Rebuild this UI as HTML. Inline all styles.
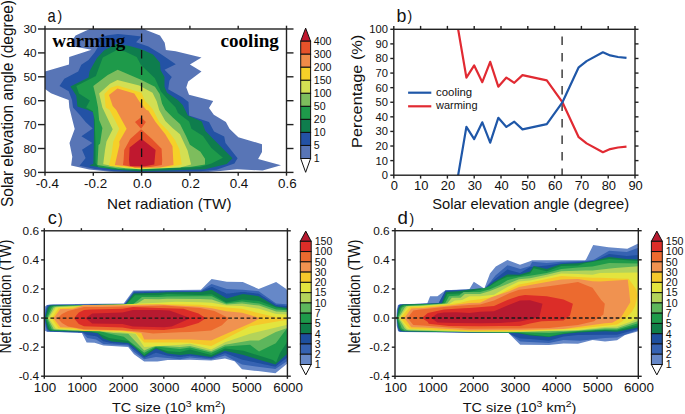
<!DOCTYPE html>
<html><head><meta charset="utf-8"><style>html,body{margin:0;padding:0;background:#fff;overflow:hidden;width:685px;height:414px;font-family:"Liberation Sans",sans-serif;}svg{display:block;}</style></head>
<body><svg width="685" height="414" viewBox="0 0 685 414">
<rect width="685" height="414" fill="#fff"/>
<clipPath id="ca"><rect x="45" y="29.0" width="241.5" height="143.4"/></clipPath>
<polygon points="90.4,28.7 144.0,28.7 146.0,30.0 160.0,35.6 164.7,42.8 165.9,49.9 175.7,51.2 201.5,57.4 189.9,64.5 201.5,71.6 188.2,81.4 186.3,87.4 189.0,94.8 213.2,100.9 209.0,108.1 213.8,114.8 225.9,122.0 229.5,128.7 238.3,137.2 262.0,144.2 262.0,151.9 258.1,158.9 281.0,165.3 262.6,170.5 237.0,169.2 220.4,171.1 205.0,172.2 140.0,172.3 110.2,171.8 89.2,169.5 71.1,165.4 72.3,156.7 69.5,143.1 74.7,129.0 72.2,119.2 69.3,107.6 68.7,100.0 60.0,96.7 51.0,93.2 45.0,89.0 45.0,71.5 69.0,64.5 69.2,57.0 91.5,49.8 74.0,46.5 72.0,41.0 75.5,35.6" fill="#5875b6" clip-path="url(#ca)"/>
<polygon points="97.0,38.2 107.5,35.3 118.0,34.1 130.9,35.3 141.4,36.4 136.1,42.3 148.4,46.4 160.0,53.4 175.8,64.3 164.5,69.8 171.8,77.1 169.4,80.7 168.2,89.2 182.7,97.6 188.5,102.1 189.1,115.4 209.0,122.0 214.0,131.4 224.2,136.5 225.5,142.9 237.6,158.3 234.4,163.4 216.5,169.8 200.0,171.3 140.0,172.0 113.7,171.3 95.0,169.0 79.5,165.7 85.6,158.0 82.0,149.8 92.4,143.0 81.4,136.3 92.7,128.5 85.6,121.9 80.1,115.2 73.0,107.6 72.0,100.0 68.7,91.3 59.5,86.0 64.3,78.7 78.2,71.5 81.3,64.8 88.5,60.0 94.8,52.3 100.0,43.5" fill="#2352a5" clip-path="url(#ca)"/>
<polygon points="104.0,50.4 115.7,44.0 128.5,45.8 141.4,49.3 153.0,54.5 160.0,62.7 160.5,70.0 164.5,77.1 164.5,86.8 167.0,92.8 177.8,100.0 182.7,104.9 187.9,115.4 201.8,121.4 205.4,131.1 213.3,139.1 232.5,158.3 226.8,164.1 205.0,169.2 140.0,171.3 112.6,169.5 89.2,165.4 93.3,163.7 93.8,145.0 94.0,128.0 93.7,112.5 87.2,109.8 77.4,106.5 76.3,95.7 70.4,86.4 88.5,77.5 89.7,70.9 93.0,65.0 97.0,58.0" fill="#0e7d4d" clip-path="url(#ca)"/>
<polygon points="102.8,57.4 116.9,49.9 125.0,51.6 136.7,56.9 141.0,65.0 154.9,78.3 160.9,91.6 168.2,100.0 175.4,107.3 178.0,113.0 189.1,121.4 191.5,128.7 203.0,135.9 211.4,148.0 222.9,157.7 211.4,163.4 200.0,167.0 130.0,170.1 98.5,167.2 95.5,163.0 95.5,145.0 95.0,130.0 94.8,120.0 92.6,110.9 86.1,107.6 89.9,100.5 79.0,93.5 76.3,85.9 95.9,76.0 98.2,69.7" fill="#1e9a4a" clip-path="url(#ca)"/>
<polygon points="117.7,69.8 140.4,79.5 154.9,86.8 159.7,94.0 162.1,103.7 165.3,110.0 172.5,117.3 180.0,124.0 186.0,135.9 189.9,144.7 200.4,151.7 205.0,158.7 205.0,164.5 190.0,167.0 118.4,168.4 97.4,164.9 98.5,145.0 100.0,143.8 102.4,128.1 100.0,122.1 99.1,120.0 98.0,107.6 95.9,96.7 93.3,86.0 107.8,75.0" fill="#7dbd5d" clip-path="url(#ca)"/>
<polygon points="117.4,80.1 139.2,85.5 152.5,92.8 156.7,101.3 159.2,110.0 165.3,120.9 172.5,128.1 180.0,134.2 187.6,150.5 191.1,164.5 180.0,167.5 140.0,169.3 125.4,168.2 103.2,164.3 105.0,150.0 106.5,141.4 112.7,129.3 103.6,110.0 102.4,107.6 99.1,93.5 110.0,83.7" fill="#d3df53" clip-path="url(#ca)"/>
<polygon points="117.4,85.5 141.6,92.8 145.2,101.3 150.0,106.0 153.2,110.0 159.2,122.1 167.7,130.5 175.0,140.0 179.4,149.3 181.7,164.5 170.0,167.0 140.0,168.8 110.0,166.0 109.0,164.9 111.5,155.0 113.3,141.4 119.3,128.7 109.7,110.0 105.7,107.6 104.4,94.0 110.0,88.0" fill="#f5d128" clip-path="url(#ca)"/>
<polygon points="117.4,88.6 134.3,93.4 139.2,101.3 146.4,110.0 148.3,110.5 155.6,122.1 165.3,134.2 172.5,146.3 173.5,165.1 160.0,167.5 140.0,167.8 114.9,165.0 116.0,160.0 119.5,145.0 119.3,141.4 126.6,128.7 116.3,110.0 112.7,106.0 109.0,95.0" fill="#ef8b48" clip-path="url(#ca)"/>
<polygon points="141.1,117.3 145.9,122.1 141.1,128.7 135.0,122.1" fill="#e6522a" clip-path="url(#ca)"/>
<polygon points="141.1,129.3 152.0,139.0 161.6,148.7 162.2,160.0 161.9,165.1 150.0,167.0 135.0,167.5 123.0,165.0 123.6,160.0 124.2,149.9 130.2,139.0" fill="#e6522a" clip-path="url(#ca)"/>
<polygon points="141.1,138.4 155.6,149.9 155.4,152.0 154.3,164.5 145.0,166.3 130.0,166.0 129.5,164.9 129.0,160.0 129.6,147.5" fill="#c0182f" clip-path="url(#ca)"/>
<line x1="141.60" y1="29.00" x2="141.60" y2="172.40" stroke="#111" stroke-width="1.3" stroke-dasharray="8.5 7.9" stroke-dashoffset="11.8"/>
<text x="52.20" y="46.80" font-family="&quot;Liberation Serif&quot;, serif" font-size="19" font-weight="bold" text-anchor="start" fill="#000" textLength="73.2" lengthAdjust="spacingAndGlyphs">warming</text>
<text x="220.50" y="46.80" font-family="&quot;Liberation Serif&quot;, serif" font-size="19" font-weight="bold" text-anchor="start" fill="#000" textLength="58.4" lengthAdjust="spacingAndGlyphs">cooling</text>
<rect x="45" y="29.0" width="241.5" height="143.4" fill="none" stroke="#222222" stroke-width="1.4"/>
<line x1="45.00" y1="172.40" x2="45.00" y2="175.70" stroke="#222222" stroke-width="1.4"/>
<line x1="45.00" y1="29.00" x2="45.00" y2="25.70" stroke="#222222" stroke-width="1.4"/>
<text x="47.30" y="187.60" font-family="&quot;Liberation Sans&quot;, sans-serif" font-size="13.4" font-weight="normal" text-anchor="middle" fill="#111">-0.4</text>
<line x1="93.30" y1="172.40" x2="93.30" y2="175.70" stroke="#222222" stroke-width="1.4"/>
<line x1="93.30" y1="29.00" x2="93.30" y2="25.70" stroke="#222222" stroke-width="1.4"/>
<text x="95.60" y="187.60" font-family="&quot;Liberation Sans&quot;, sans-serif" font-size="13.4" font-weight="normal" text-anchor="middle" fill="#111">-0.2</text>
<line x1="141.60" y1="172.40" x2="141.60" y2="175.70" stroke="#222222" stroke-width="1.4"/>
<line x1="141.60" y1="29.00" x2="141.60" y2="25.70" stroke="#222222" stroke-width="1.4"/>
<text x="142.40" y="187.60" font-family="&quot;Liberation Sans&quot;, sans-serif" font-size="13.4" font-weight="normal" text-anchor="middle" fill="#111">0.0</text>
<line x1="189.90" y1="172.40" x2="189.90" y2="175.70" stroke="#222222" stroke-width="1.4"/>
<line x1="189.90" y1="29.00" x2="189.90" y2="25.70" stroke="#222222" stroke-width="1.4"/>
<text x="190.70" y="187.60" font-family="&quot;Liberation Sans&quot;, sans-serif" font-size="13.4" font-weight="normal" text-anchor="middle" fill="#111">0.2</text>
<line x1="238.20" y1="172.40" x2="238.20" y2="175.70" stroke="#222222" stroke-width="1.4"/>
<line x1="238.20" y1="29.00" x2="238.20" y2="25.70" stroke="#222222" stroke-width="1.4"/>
<text x="239.00" y="187.60" font-family="&quot;Liberation Sans&quot;, sans-serif" font-size="13.4" font-weight="normal" text-anchor="middle" fill="#111">0.4</text>
<line x1="286.50" y1="172.40" x2="286.50" y2="175.70" stroke="#222222" stroke-width="1.4"/>
<line x1="286.50" y1="29.00" x2="286.50" y2="25.70" stroke="#222222" stroke-width="1.4"/>
<text x="287.30" y="187.60" font-family="&quot;Liberation Sans&quot;, sans-serif" font-size="13.4" font-weight="normal" text-anchor="middle" fill="#111">0.6</text>
<line x1="45.00" y1="29.00" x2="38.00" y2="29.00" stroke="#222222" stroke-width="1.4"/>
<line x1="286.50" y1="29.00" x2="293.50" y2="29.00" stroke="#222222" stroke-width="1.4"/>
<text x="36.50" y="33.10" font-family="&quot;Liberation Sans&quot;, sans-serif" font-size="11.8" font-weight="normal" text-anchor="end" fill="#111">30</text>
<line x1="45.00" y1="52.90" x2="38.00" y2="52.90" stroke="#222222" stroke-width="1.4"/>
<line x1="286.50" y1="52.90" x2="293.50" y2="52.90" stroke="#222222" stroke-width="1.4"/>
<text x="36.50" y="57.00" font-family="&quot;Liberation Sans&quot;, sans-serif" font-size="11.8" font-weight="normal" text-anchor="end" fill="#111">40</text>
<line x1="45.00" y1="76.80" x2="38.00" y2="76.80" stroke="#222222" stroke-width="1.4"/>
<line x1="286.50" y1="76.80" x2="293.50" y2="76.80" stroke="#222222" stroke-width="1.4"/>
<text x="36.50" y="80.90" font-family="&quot;Liberation Sans&quot;, sans-serif" font-size="11.8" font-weight="normal" text-anchor="end" fill="#111">50</text>
<line x1="45.00" y1="100.70" x2="38.00" y2="100.70" stroke="#222222" stroke-width="1.4"/>
<line x1="286.50" y1="100.70" x2="293.50" y2="100.70" stroke="#222222" stroke-width="1.4"/>
<text x="36.50" y="104.80" font-family="&quot;Liberation Sans&quot;, sans-serif" font-size="11.8" font-weight="normal" text-anchor="end" fill="#111">60</text>
<line x1="45.00" y1="124.60" x2="38.00" y2="124.60" stroke="#222222" stroke-width="1.4"/>
<line x1="286.50" y1="124.60" x2="293.50" y2="124.60" stroke="#222222" stroke-width="1.4"/>
<text x="36.50" y="128.70" font-family="&quot;Liberation Sans&quot;, sans-serif" font-size="11.8" font-weight="normal" text-anchor="end" fill="#111">70</text>
<line x1="45.00" y1="148.50" x2="38.00" y2="148.50" stroke="#222222" stroke-width="1.4"/>
<line x1="286.50" y1="148.50" x2="293.50" y2="148.50" stroke="#222222" stroke-width="1.4"/>
<text x="36.50" y="152.60" font-family="&quot;Liberation Sans&quot;, sans-serif" font-size="11.8" font-weight="normal" text-anchor="end" fill="#111">80</text>
<line x1="45.00" y1="172.40" x2="38.00" y2="172.40" stroke="#222222" stroke-width="1.4"/>
<line x1="286.50" y1="172.40" x2="293.50" y2="172.40" stroke="#222222" stroke-width="1.4"/>
<text x="36.50" y="176.50" font-family="&quot;Liberation Sans&quot;, sans-serif" font-size="11.8" font-weight="normal" text-anchor="end" fill="#111">90</text>
<text x="13.00" y="207.00" font-family="&quot;Liberation Sans&quot;, sans-serif" font-size="16" font-weight="normal" text-anchor="start" fill="#111" textLength="207" lengthAdjust="spacingAndGlyphs" transform="rotate(-90 13.00 207.00)">Solar elevation angle (degree)</text>
<text x="169.30" y="209.40" font-family="&quot;Liberation Sans&quot;, sans-serif" font-size="15" font-weight="normal" text-anchor="middle" fill="#111" textLength="124.5" lengthAdjust="spacingAndGlyphs">Net radiation (TW)</text>
<text x="47.50" y="21.50" font-family="&quot;Liberation Sans&quot;, sans-serif" font-size="19" font-weight="normal" text-anchor="start" fill="#111" textLength="8.2" lengthAdjust="spacingAndGlyphs">a</text>
<text x="57.60" y="20.80" font-family="&quot;Liberation Sans&quot;, sans-serif" font-size="14" font-weight="normal" text-anchor="start" fill="#111">)</text>
<polygon points="300.7,41.2 305.65,28.1 310.6,41.2" fill="#c0182f" stroke="#111" stroke-width="1" stroke-linejoin="miter"/>
<polygon points="300.7,158.5 305.65,172.3 310.6,158.5" fill="#ffffff" stroke="#111" stroke-width="1"/>
<rect x="300.7" y="41.20" width="9.900000000000034" height="13.03" fill="#e6522a" stroke="#111" stroke-width="1"/>
<rect x="300.7" y="54.23" width="9.900000000000034" height="13.03" fill="#ef8b48" stroke="#111" stroke-width="1"/>
<rect x="300.7" y="67.27" width="9.900000000000034" height="13.03" fill="#f5d128" stroke="#111" stroke-width="1"/>
<rect x="300.7" y="80.30" width="9.900000000000034" height="13.03" fill="#d3df53" stroke="#111" stroke-width="1"/>
<rect x="300.7" y="93.33" width="9.900000000000034" height="13.03" fill="#7dbd5d" stroke="#111" stroke-width="1"/>
<rect x="300.7" y="106.37" width="9.900000000000034" height="13.03" fill="#1e9a4a" stroke="#111" stroke-width="1"/>
<rect x="300.7" y="119.40" width="9.900000000000034" height="13.03" fill="#0e7d4d" stroke="#111" stroke-width="1"/>
<rect x="300.7" y="132.43" width="9.900000000000034" height="13.03" fill="#2352a5" stroke="#111" stroke-width="1"/>
<rect x="300.7" y="145.47" width="9.900000000000034" height="13.03" fill="#5875b6" stroke="#111" stroke-width="1"/>
<text x="313.80" y="45.02" font-family="&quot;Liberation Sans&quot;, sans-serif" font-size="10.6" font-weight="normal" text-anchor="start" fill="#111">400</text>
<text x="313.80" y="58.05" font-family="&quot;Liberation Sans&quot;, sans-serif" font-size="10.6" font-weight="normal" text-anchor="start" fill="#111">300</text>
<text x="313.80" y="71.08" font-family="&quot;Liberation Sans&quot;, sans-serif" font-size="10.6" font-weight="normal" text-anchor="start" fill="#111">200</text>
<text x="313.80" y="84.12" font-family="&quot;Liberation Sans&quot;, sans-serif" font-size="10.6" font-weight="normal" text-anchor="start" fill="#111">150</text>
<text x="313.80" y="97.15" font-family="&quot;Liberation Sans&quot;, sans-serif" font-size="10.6" font-weight="normal" text-anchor="start" fill="#111">100</text>
<text x="313.80" y="110.18" font-family="&quot;Liberation Sans&quot;, sans-serif" font-size="10.6" font-weight="normal" text-anchor="start" fill="#111">50</text>
<text x="313.80" y="123.22" font-family="&quot;Liberation Sans&quot;, sans-serif" font-size="10.6" font-weight="normal" text-anchor="start" fill="#111">20</text>
<text x="313.80" y="136.25" font-family="&quot;Liberation Sans&quot;, sans-serif" font-size="10.6" font-weight="normal" text-anchor="start" fill="#111">10</text>
<text x="313.80" y="149.28" font-family="&quot;Liberation Sans&quot;, sans-serif" font-size="10.6" font-weight="normal" text-anchor="start" fill="#111">5</text>
<text x="313.80" y="162.32" font-family="&quot;Liberation Sans&quot;, sans-serif" font-size="10.6" font-weight="normal" text-anchor="start" fill="#111">1</text>
<clipPath id="cb"><rect x="393.8" y="29.3" width="241.2" height="145.89999999999998"/></clipPath>
<line x1="562.10" y1="29.30" x2="562.10" y2="175.20" stroke="#222" stroke-width="1.3" stroke-dasharray="8.4 8.1" stroke-dashoffset="9.2"/>
<polyline points="458.1,29.0 466.4,77.6 474.2,65.4 482.3,82.2 490.2,61.9 498.3,86.7 506.4,77.6 514.3,82.8 522.5,75.1 546.8,80.3 562.2,101.8 578.7,137.2 586.6,143.4 602.9,152.2 610.2,149.1 618.0,147.5 626.5,146.6" fill="none" stroke="#e12a32" stroke-width="2.2" stroke-linejoin="round" clip-path="url(#cb)"/>
<polyline points="458.1,175.5 466.4,126.9 474.2,139.1 482.3,122.3 490.2,142.6 498.3,117.8 506.4,126.9 514.3,121.7 522.5,129.4 546.8,124.2 562.2,102.7 578.7,67.3 586.6,61.1 602.9,52.3 610.2,55.4 618.0,57.0 626.5,57.9" fill="none" stroke="#1f57a8" stroke-width="2.2" stroke-linejoin="round" clip-path="url(#cb)"/>
<rect x="393.8" y="29.3" width="241.2" height="145.89999999999998" fill="none" stroke="#222222" stroke-width="1.4"/>
<line x1="393.80" y1="175.20" x2="393.80" y2="178.60" stroke="#222222" stroke-width="1.4"/>
<line x1="393.80" y1="29.30" x2="393.80" y2="25.90" stroke="#222222" stroke-width="1.4"/>
<text x="394.40" y="189.80" font-family="&quot;Liberation Sans&quot;, sans-serif" font-size="12.9" font-weight="normal" text-anchor="middle" fill="#111">0</text>
<line x1="420.60" y1="175.20" x2="420.60" y2="178.60" stroke="#222222" stroke-width="1.4"/>
<line x1="420.60" y1="29.30" x2="420.60" y2="25.90" stroke="#222222" stroke-width="1.4"/>
<text x="421.20" y="189.80" font-family="&quot;Liberation Sans&quot;, sans-serif" font-size="12.9" font-weight="normal" text-anchor="middle" fill="#111">10</text>
<line x1="447.40" y1="175.20" x2="447.40" y2="178.60" stroke="#222222" stroke-width="1.4"/>
<line x1="447.40" y1="29.30" x2="447.40" y2="25.90" stroke="#222222" stroke-width="1.4"/>
<text x="448.00" y="189.80" font-family="&quot;Liberation Sans&quot;, sans-serif" font-size="12.9" font-weight="normal" text-anchor="middle" fill="#111">20</text>
<line x1="474.20" y1="175.20" x2="474.20" y2="178.60" stroke="#222222" stroke-width="1.4"/>
<line x1="474.20" y1="29.30" x2="474.20" y2="25.90" stroke="#222222" stroke-width="1.4"/>
<text x="474.80" y="189.80" font-family="&quot;Liberation Sans&quot;, sans-serif" font-size="12.9" font-weight="normal" text-anchor="middle" fill="#111">30</text>
<line x1="501.00" y1="175.20" x2="501.00" y2="178.60" stroke="#222222" stroke-width="1.4"/>
<line x1="501.00" y1="29.30" x2="501.00" y2="25.90" stroke="#222222" stroke-width="1.4"/>
<text x="501.60" y="189.80" font-family="&quot;Liberation Sans&quot;, sans-serif" font-size="12.9" font-weight="normal" text-anchor="middle" fill="#111">40</text>
<line x1="527.80" y1="175.20" x2="527.80" y2="178.60" stroke="#222222" stroke-width="1.4"/>
<line x1="527.80" y1="29.30" x2="527.80" y2="25.90" stroke="#222222" stroke-width="1.4"/>
<text x="528.40" y="189.80" font-family="&quot;Liberation Sans&quot;, sans-serif" font-size="12.9" font-weight="normal" text-anchor="middle" fill="#111">50</text>
<line x1="554.60" y1="175.20" x2="554.60" y2="178.60" stroke="#222222" stroke-width="1.4"/>
<line x1="554.60" y1="29.30" x2="554.60" y2="25.90" stroke="#222222" stroke-width="1.4"/>
<text x="555.20" y="189.80" font-family="&quot;Liberation Sans&quot;, sans-serif" font-size="12.9" font-weight="normal" text-anchor="middle" fill="#111">60</text>
<line x1="581.40" y1="175.20" x2="581.40" y2="178.60" stroke="#222222" stroke-width="1.4"/>
<line x1="581.40" y1="29.30" x2="581.40" y2="25.90" stroke="#222222" stroke-width="1.4"/>
<text x="582.00" y="189.80" font-family="&quot;Liberation Sans&quot;, sans-serif" font-size="12.9" font-weight="normal" text-anchor="middle" fill="#111">70</text>
<line x1="608.20" y1="175.20" x2="608.20" y2="178.60" stroke="#222222" stroke-width="1.4"/>
<line x1="608.20" y1="29.30" x2="608.20" y2="25.90" stroke="#222222" stroke-width="1.4"/>
<text x="608.80" y="189.80" font-family="&quot;Liberation Sans&quot;, sans-serif" font-size="12.9" font-weight="normal" text-anchor="middle" fill="#111">80</text>
<line x1="635.00" y1="175.20" x2="635.00" y2="178.60" stroke="#222222" stroke-width="1.4"/>
<line x1="635.00" y1="29.30" x2="635.00" y2="25.90" stroke="#222222" stroke-width="1.4"/>
<text x="635.60" y="189.80" font-family="&quot;Liberation Sans&quot;, sans-serif" font-size="12.9" font-weight="normal" text-anchor="middle" fill="#111">90</text>
<line x1="393.80" y1="175.20" x2="390.30" y2="175.20" stroke="#222222" stroke-width="1.4"/>
<line x1="635.00" y1="175.20" x2="638.50" y2="175.20" stroke="#222222" stroke-width="1.4"/>
<text x="388.00" y="179.10" font-family="&quot;Liberation Sans&quot;, sans-serif" font-size="11.2" font-weight="normal" text-anchor="end" fill="#111">0</text>
<line x1="393.80" y1="160.61" x2="390.30" y2="160.61" stroke="#222222" stroke-width="1.4"/>
<line x1="635.00" y1="160.61" x2="638.50" y2="160.61" stroke="#222222" stroke-width="1.4"/>
<text x="388.00" y="164.51" font-family="&quot;Liberation Sans&quot;, sans-serif" font-size="11.2" font-weight="normal" text-anchor="end" fill="#111">10</text>
<line x1="393.80" y1="146.02" x2="390.30" y2="146.02" stroke="#222222" stroke-width="1.4"/>
<line x1="635.00" y1="146.02" x2="638.50" y2="146.02" stroke="#222222" stroke-width="1.4"/>
<text x="388.00" y="149.92" font-family="&quot;Liberation Sans&quot;, sans-serif" font-size="11.2" font-weight="normal" text-anchor="end" fill="#111">20</text>
<line x1="393.80" y1="131.43" x2="390.30" y2="131.43" stroke="#222222" stroke-width="1.4"/>
<line x1="635.00" y1="131.43" x2="638.50" y2="131.43" stroke="#222222" stroke-width="1.4"/>
<text x="388.00" y="135.33" font-family="&quot;Liberation Sans&quot;, sans-serif" font-size="11.2" font-weight="normal" text-anchor="end" fill="#111">30</text>
<line x1="393.80" y1="116.84" x2="390.30" y2="116.84" stroke="#222222" stroke-width="1.4"/>
<line x1="635.00" y1="116.84" x2="638.50" y2="116.84" stroke="#222222" stroke-width="1.4"/>
<text x="388.00" y="120.74" font-family="&quot;Liberation Sans&quot;, sans-serif" font-size="11.2" font-weight="normal" text-anchor="end" fill="#111">40</text>
<line x1="393.80" y1="102.25" x2="390.30" y2="102.25" stroke="#222222" stroke-width="1.4"/>
<line x1="635.00" y1="102.25" x2="638.50" y2="102.25" stroke="#222222" stroke-width="1.4"/>
<text x="388.00" y="106.15" font-family="&quot;Liberation Sans&quot;, sans-serif" font-size="11.2" font-weight="normal" text-anchor="end" fill="#111">50</text>
<line x1="393.80" y1="87.66" x2="390.30" y2="87.66" stroke="#222222" stroke-width="1.4"/>
<line x1="635.00" y1="87.66" x2="638.50" y2="87.66" stroke="#222222" stroke-width="1.4"/>
<text x="388.00" y="91.56" font-family="&quot;Liberation Sans&quot;, sans-serif" font-size="11.2" font-weight="normal" text-anchor="end" fill="#111">60</text>
<line x1="393.80" y1="73.07" x2="390.30" y2="73.07" stroke="#222222" stroke-width="1.4"/>
<line x1="635.00" y1="73.07" x2="638.50" y2="73.07" stroke="#222222" stroke-width="1.4"/>
<text x="388.00" y="76.97" font-family="&quot;Liberation Sans&quot;, sans-serif" font-size="11.2" font-weight="normal" text-anchor="end" fill="#111">70</text>
<line x1="393.80" y1="58.48" x2="390.30" y2="58.48" stroke="#222222" stroke-width="1.4"/>
<line x1="635.00" y1="58.48" x2="638.50" y2="58.48" stroke="#222222" stroke-width="1.4"/>
<text x="388.00" y="62.38" font-family="&quot;Liberation Sans&quot;, sans-serif" font-size="11.2" font-weight="normal" text-anchor="end" fill="#111">80</text>
<line x1="393.80" y1="43.89" x2="390.30" y2="43.89" stroke="#222222" stroke-width="1.4"/>
<line x1="635.00" y1="43.89" x2="638.50" y2="43.89" stroke="#222222" stroke-width="1.4"/>
<text x="388.00" y="47.79" font-family="&quot;Liberation Sans&quot;, sans-serif" font-size="11.2" font-weight="normal" text-anchor="end" fill="#111">90</text>
<line x1="393.80" y1="29.30" x2="390.30" y2="29.30" stroke="#222222" stroke-width="1.4"/>
<line x1="635.00" y1="29.30" x2="638.50" y2="29.30" stroke="#222222" stroke-width="1.4"/>
<text x="388.00" y="33.20" font-family="&quot;Liberation Sans&quot;, sans-serif" font-size="11.2" font-weight="normal" text-anchor="end" fill="#111">100</text>
<text x="361.90" y="147.90" font-family="&quot;Liberation Sans&quot;, sans-serif" font-size="15.4" font-weight="normal" text-anchor="start" fill="#111" textLength="113.2" lengthAdjust="spacingAndGlyphs" transform="rotate(-90 361.90 147.90)">Percentage (%)</text>
<text x="432.20" y="208.80" font-family="&quot;Liberation Sans&quot;, sans-serif" font-size="14.7" font-weight="normal" text-anchor="start" fill="#111" textLength="197" lengthAdjust="spacingAndGlyphs">Solar elevation angle (degree)</text>
<text x="396.60" y="21.50" font-family="&quot;Liberation Sans&quot;, sans-serif" font-size="19" font-weight="normal" text-anchor="start" fill="#111" textLength="9.9" lengthAdjust="spacingAndGlyphs">b</text>
<text x="407.40" y="20.80" font-family="&quot;Liberation Sans&quot;, sans-serif" font-size="14" font-weight="normal" text-anchor="start" fill="#111">)</text>
<line x1="408.10" y1="92.70" x2="431.30" y2="92.70" stroke="#1f57a8" stroke-width="2.2"/>
<line x1="408.10" y1="106.30" x2="431.30" y2="106.30" stroke="#e12a32" stroke-width="2.2"/>
<text x="436.10" y="95.80" font-family="&quot;Liberation Sans&quot;, sans-serif" font-size="11.2" font-weight="normal" text-anchor="start" fill="#111" textLength="36" lengthAdjust="spacingAndGlyphs">cooling</text>
<text x="436.10" y="109.20" font-family="&quot;Liberation Sans&quot;, sans-serif" font-size="11.2" font-weight="normal" text-anchor="start" fill="#111" textLength="41.4" lengthAdjust="spacingAndGlyphs">warming</text>
<clipPath id="cc"><rect x="44.3" y="230.8" width="243.09999999999997" height="145.39999999999998"/></clipPath>
<polygon points="44.3,308.3 45.3,306.3 47.0,305.0 50.0,304.4 53.0,304.2 123.7,303.6 133.3,290.4 200.9,289.7 211.6,279.1 226.8,281.7 242.8,282.0 258.7,289.0 276.1,282.0 286.3,289.0 287.4,291.0 287.4,363.5 275.4,373.3 258.0,371.1 242.0,369.3 234.6,361.3 225.0,358.6 211.2,360.5 190.0,359.7 180.0,360.0 167.6,360.0 157.4,361.5 144.2,361.5 134.0,354.2 128.2,346.9 103.4,345.4 94.6,342.8 86.6,342.5 81.5,332.3 53.7,331.9 47.0,331.7 45.3,331.0 44.3,329.5" fill="#6688c8" clip-path="url(#cc)"/>
<polygon points="44.8,318.2 45.5,310.0 47.0,305.0 124.5,304.0 134.0,291.2 200.9,290.7 211.6,283.9 226.8,289.0 242.8,289.7 258.7,291.2 276.1,303.5 286.3,304.2 287.4,304.5 287.4,361.0 275.4,368.9 242.0,364.6 225.0,355.5 211.2,359.5 190.0,357.5 180.0,359.3 167.6,358.0 155.9,357.0 144.2,359.3 134.0,352.0 128.2,345.5 103.4,344.0 96.1,339.6 87.3,338.1 82.9,333.0 47.0,331.4 45.5,326.0 44.8,318.2" fill="#3562b2" clip-path="url(#cc)"/>
<polygon points="44.3,318.2 44.8,318.2 45.3,315.1 45.8,312.4 46.3,310.6 46.8,308.7 47.3,307.4 47.8,306.3 48.3,306.1 48.8,305.8 49.3,305.6 49.8,305.3 50.3,305.2 50.8,305.2 51.3,305.2 51.8,305.2 52.3,305.2 52.8,305.1 53.3,305.1 53.8,305.1 54.3,305.1 54.8,305.1 55.3,305.1 55.8,305.1 56.3,305.1 56.8,305.1 57.3,305.1 57.8,305.1 58.3,305.1 58.8,305.1 59.3,305.1 59.8,305.1 60.3,305.0 60.8,305.0 61.3,305.0 61.8,305.0 62.3,305.0 62.8,305.0 63.3,305.0 63.8,305.0 64.3,305.0 64.8,305.0 65.3,305.0 65.8,305.0 66.3,305.0 66.8,305.0 67.3,305.0 67.8,304.9 68.3,304.9 68.8,304.9 69.3,304.9 69.8,304.9 70.3,304.9 70.8,304.9 71.3,304.9 71.8,304.9 72.3,304.9 72.8,304.9 73.3,304.9 73.8,304.9 74.3,304.9 74.8,304.9 75.3,304.8 75.8,304.8 76.3,304.8 76.8,304.8 77.3,304.8 77.8,304.8 78.3,304.8 78.8,304.8 79.3,304.8 79.8,304.8 80.3,304.8 80.8,304.8 81.3,304.8 81.8,304.8 82.3,304.8 82.8,304.7 83.3,304.7 83.8,304.7 84.3,304.7 84.8,304.7 85.3,304.7 85.8,304.7 86.3,304.7 86.8,304.7 87.3,304.7 87.8,304.7 88.3,304.7 88.8,304.7 89.3,304.7 89.8,304.7 90.3,304.6 90.8,304.6 91.3,304.6 91.8,304.6 92.3,304.6 92.8,304.6 93.3,304.6 93.8,304.6 94.3,304.6 94.8,304.6 95.3,304.6 95.8,304.6 96.3,304.6 96.8,304.6 97.3,304.6 97.8,304.5 98.3,304.5 98.8,304.5 99.3,304.5 99.8,304.5 100.3,304.5 100.8,304.5 101.3,304.5 101.8,304.5 102.3,304.5 102.8,304.5 103.3,304.5 103.8,304.5 104.3,304.5 104.8,304.5 105.3,304.4 105.8,304.4 106.3,304.4 106.8,304.4 107.3,304.4 107.8,304.4 108.3,304.4 108.8,304.4 109.3,304.4 109.8,304.4 110.3,304.4 110.8,304.4 111.3,304.4 111.8,304.4 112.3,304.4 112.8,304.3 113.3,304.3 113.8,304.3 114.3,304.3 114.8,304.3 115.3,304.3 115.8,304.3 116.3,304.3 116.8,304.3 117.3,304.3 117.8,304.3 118.3,304.3 118.8,304.3 119.3,304.3 119.8,304.3 120.3,304.3 120.8,304.2 121.3,304.2 121.8,304.2 122.3,304.2 122.8,304.2 123.3,304.2 123.8,304.2 124.3,304.1 124.8,303.8 125.3,303.4 125.8,303.0 126.3,302.5 126.8,301.8 127.3,301.2 127.8,300.5 128.3,299.8 128.8,299.2 129.3,298.5 129.8,297.8 130.3,297.2 130.8,296.5 131.3,295.8 131.8,295.2 132.3,294.5 132.8,293.8 133.3,293.2 133.8,292.5 134.3,292.3 134.8,292.3 135.3,292.3 135.8,292.3 136.3,292.3 136.8,292.3 137.3,292.3 137.8,292.3 138.3,292.3 138.8,292.3 139.3,292.2 139.8,292.2 140.3,292.2 140.8,292.2 141.3,292.2 141.8,292.2 142.3,292.2 142.8,292.2 143.3,292.2 143.8,292.2 144.3,292.1 144.8,292.1 145.3,292.1 145.8,292.1 146.3,292.1 146.8,292.1 147.3,292.1 147.8,292.1 148.3,292.1 148.8,292.1 149.3,292.0 149.8,292.0 150.3,292.0 150.8,292.0 151.3,292.0 151.8,292.0 152.3,292.0 152.8,292.0 153.3,292.0 153.8,292.0 154.3,291.9 154.8,291.9 155.3,291.9 155.8,291.9 156.3,291.9 156.8,291.9 157.3,291.9 157.8,291.9 158.3,291.9 158.8,291.9 159.3,291.8 159.8,291.8 160.3,291.8 160.8,291.8 161.3,291.8 161.8,291.8 162.3,291.7 162.8,291.7 163.3,291.7 163.8,291.7 164.3,291.7 164.8,291.7 165.3,291.6 165.8,291.6 166.3,291.6 166.8,291.6 167.3,291.6 167.8,291.6 168.3,291.6 168.8,291.6 169.3,291.6 169.8,291.6 170.3,291.6 170.8,291.6 171.3,291.5 171.8,291.5 172.3,291.5 172.8,291.5 173.3,291.5 173.8,291.5 174.3,291.5 174.8,291.5 175.3,291.5 175.8,291.5 176.3,291.5 176.8,291.5 177.3,291.5 177.8,291.5 178.3,291.5 178.8,291.5 179.3,291.5 179.8,291.5 180.3,291.5 180.8,291.5 181.3,291.5 181.8,291.5 182.3,291.5 182.8,291.5 183.3,291.5 183.8,291.5 184.3,291.5 184.8,291.5 185.3,291.5 185.8,291.5 186.3,291.4 186.8,291.4 187.3,291.4 187.8,291.4 188.3,291.4 188.8,291.4 189.3,291.4 189.8,291.4 190.3,291.4 190.8,291.4 191.3,291.4 191.8,291.4 192.3,291.4 192.8,291.4 193.3,291.4 193.8,291.4 194.3,291.4 194.8,291.4 195.3,291.4 195.8,291.4 196.3,291.4 196.8,291.4 197.3,291.4 197.8,291.4 198.3,291.4 198.8,291.4 199.3,291.4 199.8,291.4 200.3,291.4 200.8,291.4 201.3,291.2 201.8,291.0 202.3,290.8 202.8,290.5 203.3,290.3 203.8,290.1 204.3,289.9 204.8,289.7 205.3,289.5 205.8,289.3 206.3,289.1 206.8,288.8 207.3,288.6 207.8,288.4 208.3,288.2 208.8,288.0 209.3,287.8 209.8,287.6 210.3,287.4 210.8,287.2 211.3,286.9 211.8,286.9 212.3,287.1 212.8,287.3 213.3,287.5 213.8,287.8 214.3,288.0 214.8,288.2 215.3,288.5 215.8,288.7 216.3,288.9 216.8,289.1 217.3,289.4 217.8,289.6 218.3,289.8 218.8,290.1 219.3,290.3 219.8,290.5 220.3,290.7 220.8,291.0 221.3,291.2 221.8,291.4 222.3,291.6 222.8,291.9 223.3,292.1 223.8,292.3 224.3,292.6 224.8,292.8 225.3,293.0 225.8,293.2 226.3,293.5 226.8,293.7 227.3,293.6 227.8,293.6 228.3,293.5 228.8,293.5 229.3,293.4 229.8,293.4 230.3,293.3 230.8,293.2 231.3,293.2 231.8,293.1 232.3,293.1 232.8,293.0 233.3,292.9 233.8,292.9 234.3,292.8 234.8,292.8 235.3,292.7 235.8,292.7 236.3,292.6 236.8,292.5 237.3,292.5 237.8,292.4 238.3,292.4 238.8,292.3 239.3,292.3 239.8,292.2 240.3,292.1 240.8,292.1 241.3,292.0 241.8,292.0 242.3,291.9 242.8,291.9 243.3,291.9 243.8,292.0 244.3,292.0 244.8,292.1 245.3,292.1 245.8,292.2 246.3,292.3 246.8,292.3 247.3,292.4 247.8,292.4 248.3,292.5 248.8,292.5 249.3,292.6 249.8,292.7 250.3,292.7 250.8,292.8 251.3,292.8 251.8,292.9 252.3,293.0 252.8,293.0 253.3,293.1 253.8,293.1 254.3,293.2 254.8,293.2 255.3,293.3 255.8,293.4 256.3,293.4 256.8,293.5 257.3,293.5 257.8,293.6 258.3,293.7 258.8,293.8 259.3,294.1 259.8,294.4 260.3,294.7 260.8,295.1 261.3,295.4 261.8,295.7 262.3,296.0 262.8,296.4 263.3,296.7 263.8,297.0 264.3,297.3 264.8,297.6 265.3,298.0 265.8,298.3 266.3,298.6 266.8,298.9 267.3,299.3 267.8,299.6 268.3,299.9 268.8,300.2 269.3,300.6 269.8,300.9 270.3,301.2 270.8,301.5 271.3,301.8 271.8,302.2 272.3,302.5 272.8,302.8 273.3,303.1 273.8,303.5 274.3,303.8 274.8,304.1 275.3,304.4 275.8,304.8 276.3,305.0 276.8,305.0 277.3,305.1 277.8,305.1 278.3,305.2 278.8,305.2 279.3,305.3 279.8,305.3 280.3,305.4 280.8,305.4 281.3,305.5 281.8,305.5 282.3,305.6 282.8,305.6 283.3,305.7 283.8,305.7 284.3,305.8 284.8,305.8 285.3,305.9 285.8,305.9 286.3,306.0 286.8,306.1 287.3,306.2 287.3,357.4 286.8,357.8 286.3,358.2 285.8,358.6 285.3,359.0 284.8,359.4 284.3,359.8 283.8,360.2 283.3,360.6 282.8,361.0 282.3,361.3 281.8,361.7 281.3,362.1 280.8,362.5 280.3,362.9 279.8,363.3 279.3,363.7 278.8,364.1 278.3,364.5 277.8,364.9 277.3,365.3 276.8,365.7 276.3,366.0 275.8,366.4 275.3,366.7 274.8,366.6 274.3,366.5 273.8,366.4 273.3,366.3 272.8,366.2 272.3,366.1 271.8,366.0 271.3,365.9 270.8,365.8 270.3,365.7 269.8,365.6 269.3,365.4 268.8,365.3 268.3,365.2 267.8,365.1 267.3,365.0 266.8,364.9 266.3,364.8 265.8,364.7 265.3,364.6 264.8,364.5 264.3,364.4 263.8,364.3 263.3,364.2 262.8,364.1 262.3,363.9 261.8,363.8 261.3,363.7 260.8,363.6 260.3,363.5 259.8,363.4 259.3,363.3 258.8,363.2 258.3,363.1 257.8,363.0 257.3,362.9 256.8,362.8 256.3,362.7 255.8,362.6 255.3,362.4 254.8,362.3 254.3,362.2 253.8,362.1 253.3,362.0 252.8,361.9 252.3,361.8 251.8,361.7 251.3,361.6 250.8,361.5 250.3,361.4 249.8,361.3 249.3,361.2 248.8,361.1 248.3,360.9 247.8,360.8 247.3,360.7 246.8,360.6 246.3,360.5 245.8,360.4 245.3,360.3 244.8,360.2 244.3,360.1 243.8,360.0 243.3,359.9 242.8,359.8 242.3,359.7 241.8,359.5 241.3,359.4 240.8,359.2 240.3,359.0 239.8,358.8 239.3,358.6 238.8,358.4 238.3,358.2 237.8,358.0 237.3,357.8 236.8,357.6 236.3,357.4 235.8,357.2 235.3,357.1 234.8,356.9 234.3,356.7 233.8,356.5 233.3,356.3 232.8,356.1 232.3,355.9 231.8,355.7 231.3,355.5 230.8,355.3 230.3,355.1 229.8,354.9 229.3,354.8 228.8,354.6 228.3,354.4 227.8,354.2 227.3,354.0 226.8,353.8 226.3,353.6 225.8,353.4 225.3,353.2 224.8,353.2 224.3,353.4 223.8,353.5 223.3,353.7 222.8,353.9 222.3,354.1 221.8,354.3 221.3,354.5 220.8,354.7 220.3,354.9 219.8,355.0 219.3,355.2 218.8,355.4 218.3,355.6 217.8,355.8 217.3,356.0 216.8,356.2 216.3,356.3 215.8,356.5 215.3,356.7 214.8,356.9 214.3,357.1 213.8,357.3 213.3,357.5 212.8,357.7 212.3,357.8 211.8,358.0 211.3,358.2 210.8,358.2 210.3,358.1 209.8,358.1 209.3,358.0 208.8,358.0 208.3,357.9 207.8,357.8 207.3,357.8 206.8,357.7 206.3,357.7 205.8,357.6 205.3,357.5 204.8,357.5 204.3,357.4 203.8,357.4 203.3,357.3 202.8,357.2 202.3,357.2 201.8,357.1 201.3,357.1 200.8,357.0 200.3,356.9 199.8,356.9 199.3,356.8 198.8,356.8 198.3,356.7 197.8,356.6 197.3,356.6 196.8,356.5 196.3,356.5 195.8,356.4 195.3,356.3 194.8,356.3 194.3,356.2 193.8,356.2 193.3,356.1 192.8,356.0 192.3,356.0 191.8,355.9 191.3,355.9 190.8,355.8 190.3,355.7 189.8,355.7 189.3,355.8 188.8,355.9 188.3,355.9 187.8,356.0 187.3,356.1 186.8,356.1 186.3,356.2 185.8,356.3 185.3,356.4 184.8,356.4 184.3,356.5 183.8,356.6 183.3,356.6 182.8,356.7 182.3,356.8 181.8,356.8 181.3,356.9 180.8,357.0 180.3,357.1 179.8,357.1 179.3,357.0 178.8,357.0 178.3,356.9 177.8,356.9 177.3,356.8 176.8,356.8 176.3,356.7 175.8,356.6 175.3,356.6 174.8,356.5 174.3,356.5 173.8,356.4 173.3,356.4 172.8,356.3 172.3,356.3 171.8,356.2 171.3,356.2 170.8,356.1 170.3,356.0 169.8,356.0 169.3,355.9 168.8,355.9 168.3,355.8 167.8,355.8 167.3,355.7 166.8,355.5 166.3,355.4 165.8,355.3 165.3,355.2 164.8,355.0 164.3,354.9 163.8,354.8 163.3,354.6 162.8,354.5 162.3,354.4 161.8,354.2 161.3,354.1 160.8,354.0 160.3,353.8 159.8,353.7 159.3,353.6 158.8,353.5 158.3,353.3 157.8,353.2 157.3,353.1 156.8,352.9 156.3,352.8 155.8,352.7 155.3,353.0 154.8,353.2 154.3,353.4 153.8,353.6 153.3,353.8 152.8,354.1 152.3,354.3 151.8,354.5 151.3,354.7 150.8,354.9 150.3,355.2 149.8,355.4 149.3,355.6 148.8,355.8 148.3,356.0 147.8,356.3 147.3,356.5 146.8,356.7 146.3,356.9 145.8,357.1 145.3,357.4 144.8,357.6 144.3,357.8 143.8,357.5 143.3,357.1 142.8,356.7 142.3,356.3 141.8,355.9 141.3,355.5 140.8,355.1 140.3,354.7 139.8,354.2 139.3,353.8 138.8,353.4 138.3,353.0 137.8,352.6 137.3,352.2 136.8,351.8 136.3,351.4 135.8,351.0 135.3,350.6 134.8,350.2 134.3,349.7 133.8,349.3 133.3,348.9 132.8,348.4 132.3,348.0 131.8,347.5 131.3,347.1 130.8,346.6 130.3,346.2 129.8,345.7 129.3,345.2 128.8,344.8 128.3,344.3 127.8,344.2 127.3,344.2 126.8,344.1 126.3,344.1 125.8,344.1 125.3,344.0 124.8,344.0 124.3,344.0 123.8,343.9 123.3,343.9 122.8,343.9 122.3,343.8 121.8,343.8 121.3,343.7 120.8,343.7 120.3,343.7 119.8,343.6 119.3,343.6 118.8,343.6 118.3,343.5 117.8,343.5 117.3,343.5 116.8,343.4 116.3,343.4 115.8,343.3 115.3,343.3 114.8,343.3 114.3,343.2 113.8,343.2 113.3,343.2 112.8,343.1 112.3,343.1 111.8,343.1 111.3,343.0 110.8,342.9 110.3,342.8 109.8,342.7 109.3,342.6 108.8,342.5 108.3,342.3 107.8,342.2 107.3,342.1 106.8,342.0 106.3,341.9 105.8,341.8 105.3,341.7 104.8,341.6 104.3,341.5 103.8,341.4 103.3,341.3 102.8,340.9 102.3,340.6 101.8,340.2 101.3,339.8 100.8,339.4 100.3,339.0 99.8,338.7 99.3,338.3 98.8,337.9 98.3,337.5 97.8,337.1 97.3,336.8 96.8,336.5 96.3,336.4 95.8,336.2 95.3,336.2 94.8,336.1 94.3,336.0 93.8,336.0 93.3,335.9 92.8,335.8 92.3,335.8 91.8,335.7 91.3,335.6 90.8,335.5 90.3,335.5 89.8,335.4 89.3,335.3 88.8,335.3 88.3,335.2 87.8,335.1 87.3,335.1 86.8,334.8 86.3,334.5 85.8,334.1 85.3,333.8 84.8,333.5 84.3,333.2 83.8,332.9 83.3,332.6 82.8,332.3 82.3,332.3 81.8,332.3 81.3,332.3 80.8,332.2 80.3,332.2 79.8,332.2 79.3,332.2 78.8,332.2 78.3,332.2 77.8,332.1 77.3,332.1 76.8,332.1 76.3,332.1 75.8,332.1 75.3,332.1 74.8,332.0 74.3,332.0 73.8,332.0 73.3,332.0 72.8,332.0 72.3,332.0 71.8,331.9 71.3,331.9 70.8,331.9 70.3,331.9 69.8,331.9 69.3,331.9 68.8,331.8 68.3,331.8 67.8,331.8 67.3,331.8 66.8,331.8 66.3,331.8 65.8,331.7 65.3,331.7 64.8,331.7 64.3,331.7 63.8,331.7 63.3,331.7 62.8,331.6 62.3,331.6 61.8,331.6 61.3,331.6 60.8,331.6 60.3,331.6 59.8,331.5 59.3,331.5 58.8,331.5 58.3,331.5 57.8,331.5 57.3,331.5 56.8,331.4 56.3,331.4 55.8,331.4 55.3,331.4 54.8,331.4 54.3,331.4 53.8,331.3 53.3,331.3 52.8,331.3 52.3,331.3 51.8,331.3 51.3,331.3 50.8,331.2 50.3,331.2 49.8,331.1 49.3,330.9 48.8,330.6 48.3,330.4 47.8,330.2 47.3,329.1 46.8,327.8 46.3,325.8 45.8,323.9 45.3,321.2 44.8,318.2 44.3,318.2" fill="#1d4f9e" clip-path="url(#cc)"/>
<polygon points="45.2,318.3 47.8,307.7 50.0,305.4 123.7,304.4 126.1,303.7 133.8,293.5 158.7,292.7 167.0,292.2 200.9,292.0 211.7,289.7 226.8,298.4 242.8,294.0 258.7,296.2 276.1,306.4 286.3,307.8 287.4,308.0 287.4,353.7 275.4,364.6 250.0,357.0 243.5,355.0 225.0,350.7 211.2,357.0 190.0,353.9 180.0,354.9 167.6,353.5 155.9,348.4 144.2,356.4 134.0,347.0 128.2,343.0 111.7,341.6 103.2,338.6 97.2,333.1 90.0,332.3 82.1,331.6 50.0,330.9 47.8,328.9 45.2,318.3" fill="#0f7e48" clip-path="url(#cc)"/>
<polygon points="45.8,318.3 49.8,307.7 52.0,305.8 123.7,304.6 127.0,303.7 135.0,295.3 158.7,295.3 167.0,294.0 200.0,295.0 211.8,294.3 226.3,302.5 242.0,299.5 259.1,300.9 276.2,307.4 286.7,309.0 287.4,309.3 287.4,341.0 286.3,343.2 280.0,353.0 276.1,362.4 273.0,360.0 243.5,350.8 225.0,348.5 211.2,354.9 190.0,349.6 180.0,352.0 167.6,351.3 155.9,347.5 144.2,354.9 128.2,341.1 109.2,338.1 97.5,333.0 90.0,331.5 52.0,330.5 49.8,328.9 45.8,318.3" fill="#1e9a4a" clip-path="url(#cc)"/>
<polygon points="46.9,318.3 51.7,307.7 54.0,306.3 73.0,305.5 123.7,305.0 133.8,303.7 142.0,297.0 158.7,297.0 167.0,296.4 200.0,296.3 211.8,296.3 226.3,303.5 242.0,301.5 259.1,303.5 276.2,309.4 287.4,310.2 287.4,328.0 284.2,332.0 275.8,343.2 259.0,351.6 250.0,344.8 225.0,346.5 211.2,352.8 190.0,347.5 180.0,349.1 155.9,346.5 144.2,352.7 123.8,336.7 106.3,333.0 100.0,331.0 73.0,330.2 54.0,330.0 51.7,328.9 46.9,318.3" fill="#5db65c" clip-path="url(#cc)"/>
<polygon points="47.8,318.3 53.6,307.7 56.0,306.8 73.0,306.1 102.0,304.8 123.7,304.6 136.7,303.7 144.4,299.0 158.7,299.2 167.0,298.8 200.0,298.9 211.8,299.5 226.3,304.5 242.0,303.5 259.1,305.5 276.2,311.4 287.4,312.0 287.4,328.0 275.8,332.0 259.0,340.5 250.0,340.6 225.0,344.8 211.2,351.2 190.0,345.9 180.0,346.9 155.9,345.4 144.2,350.5 128.2,333.8 113.6,333.0 100.0,331.2 73.0,330.4 56.0,329.5 53.6,328.9 47.8,318.3" fill="#b3d35a" clip-path="url(#cc)"/>
<polygon points="48.8,318.3 55.6,307.7 58.0,307.2 73.0,306.8 102.0,305.2 123.7,304.7 140.0,303.5 158.7,302.7 176.0,301.8 200.0,302.2 211.8,302.8 226.3,305.5 242.0,306.1 259.1,308.7 276.2,314.0 287.4,314.6 287.4,324.8 250.0,333.7 225.0,342.2 211.2,349.6 190.0,343.8 180.0,344.7 144.2,346.9 135.5,333.8 120.0,332.0 73.0,329.8 58.0,329.0 55.6,328.4 48.8,318.3" fill="#e3e43e" clip-path="url(#cc)"/>
<polygon points="51.7,318.3 58.5,308.2 73.0,307.4 84.0,305.2 123.7,304.8 140.0,304.2 158.7,304.0 200.0,304.8 211.8,306.1 226.3,307.4 242.0,308.7 259.1,313.3 276.2,317.3 287.4,318.0 287.4,319.7 278.3,321.2 250.0,326.2 225.0,339.0 211.2,345.9 190.0,342.7 180.0,342.5 144.2,342.5 135.5,333.0 120.0,331.3 84.0,331.0 73.0,329.1 58.5,328.2 51.7,318.3" fill="#f5c82b" clip-path="url(#cc)"/>
<polygon points="53.6,318.3 60.4,309.0 73.0,308.7 84.0,305.3 123.7,305.3 158.7,304.4 200.0,306.8 211.8,308.3 226.3,311.2 242.0,312.7 255.0,316.5 260.0,318.3 260.0,318.3 250.0,323.6 221.9,335.8 211.2,340.6 190.0,339.5 180.0,339.6 144.2,339.6 141.3,333.0 122.5,330.5 84.0,329.9 73.0,327.8 60.4,327.3 53.6,318.3" fill="#f09250" clip-path="url(#cc)"/>
<polygon points="57.5,318.3 62.0,314.0 68.0,311.0 84.0,307.1 102.0,307.0 123.7,306.5 158.7,305.7 164.0,305.5 200.0,308.1 214.5,311.0 229.0,318.3 229.0,318.3 221.9,325.2 211.2,330.5 190.0,332.1 180.0,332.3 153.0,333.6 138.4,331.6 122.5,330.2 84.0,329.3 68.0,326.5 62.0,323.0 57.5,318.3" fill="#ec6a2f" clip-path="url(#cc)"/>
<polygon points="74.0,318.3 78.8,312.5 84.0,310.0 91.0,309.4 122.5,308.8 133.0,307.1 158.7,307.9 183.4,308.8 198.5,313.5 205.8,318.2 205.8,318.2 198.5,322.9 183.4,327.5 164.0,329.9 133.0,329.3 122.5,327.5 84.0,326.3 78.8,324.1 74.0,318.3" fill="#dc2d28" clip-path="url(#cc)"/>
<polygon points="85.5,318.2 92.2,313.5 122.5,312.4 133.0,310.0 158.7,310.1 169.3,310.5 176.0,312.7 190.4,318.2 190.4,318.2 171.7,326.4 164.0,327.3 133.0,326.4 122.5,324.0 92.2,323.4 85.5,318.2" fill="#b71a30" clip-path="url(#cc)"/>
<line x1="44.30" y1="318.20" x2="287.40" y2="318.20" stroke="#1a1a1a" stroke-width="1.3" stroke-dasharray="3.7 2.43"/>
<rect x="44.3" y="230.8" width="243.09999999999997" height="145.39999999999998" fill="none" stroke="#222222" stroke-width="1.4"/>
<line x1="44.30" y1="376.20" x2="44.30" y2="378.80" stroke="#222222" stroke-width="1.4"/>
<line x1="44.30" y1="230.80" x2="44.30" y2="228.20" stroke="#222222" stroke-width="1.4"/>
<text x="45.00" y="391.80" font-family="&quot;Liberation Sans&quot;, sans-serif" font-size="13.4" font-weight="normal" text-anchor="middle" fill="#111">100</text>
<line x1="81.38" y1="376.20" x2="81.38" y2="378.80" stroke="#222222" stroke-width="1.4"/>
<line x1="81.38" y1="230.80" x2="81.38" y2="228.20" stroke="#222222" stroke-width="1.4"/>
<text x="82.08" y="391.80" font-family="&quot;Liberation Sans&quot;, sans-serif" font-size="13.4" font-weight="normal" text-anchor="middle" fill="#111">1000</text>
<line x1="122.59" y1="376.20" x2="122.59" y2="378.80" stroke="#222222" stroke-width="1.4"/>
<line x1="122.59" y1="230.80" x2="122.59" y2="228.20" stroke="#222222" stroke-width="1.4"/>
<text x="123.29" y="391.80" font-family="&quot;Liberation Sans&quot;, sans-serif" font-size="13.4" font-weight="normal" text-anchor="middle" fill="#111">2000</text>
<line x1="163.79" y1="376.20" x2="163.79" y2="378.80" stroke="#222222" stroke-width="1.4"/>
<line x1="163.79" y1="230.80" x2="163.79" y2="228.20" stroke="#222222" stroke-width="1.4"/>
<text x="164.49" y="391.80" font-family="&quot;Liberation Sans&quot;, sans-serif" font-size="13.4" font-weight="normal" text-anchor="middle" fill="#111">3000</text>
<line x1="204.99" y1="376.20" x2="204.99" y2="378.80" stroke="#222222" stroke-width="1.4"/>
<line x1="204.99" y1="230.80" x2="204.99" y2="228.20" stroke="#222222" stroke-width="1.4"/>
<text x="205.69" y="391.80" font-family="&quot;Liberation Sans&quot;, sans-serif" font-size="13.4" font-weight="normal" text-anchor="middle" fill="#111">4000</text>
<line x1="246.20" y1="376.20" x2="246.20" y2="378.80" stroke="#222222" stroke-width="1.4"/>
<line x1="246.20" y1="230.80" x2="246.20" y2="228.20" stroke="#222222" stroke-width="1.4"/>
<text x="246.90" y="391.80" font-family="&quot;Liberation Sans&quot;, sans-serif" font-size="13.4" font-weight="normal" text-anchor="middle" fill="#111">5000</text>
<line x1="287.40" y1="376.20" x2="287.40" y2="378.80" stroke="#222222" stroke-width="1.4"/>
<line x1="287.40" y1="230.80" x2="287.40" y2="228.20" stroke="#222222" stroke-width="1.4"/>
<text x="288.10" y="391.80" font-family="&quot;Liberation Sans&quot;, sans-serif" font-size="13.4" font-weight="normal" text-anchor="middle" fill="#111">6000</text>
<line x1="44.30" y1="230.80" x2="41.10" y2="230.80" stroke="#222222" stroke-width="1.4"/>
<line x1="287.40" y1="230.80" x2="290.80" y2="230.80" stroke="#222222" stroke-width="1.4"/>
<text x="39.00" y="234.80" font-family="&quot;Liberation Sans&quot;, sans-serif" font-size="11.8" font-weight="normal" text-anchor="end" fill="#111">0.6</text>
<line x1="44.30" y1="259.88" x2="41.10" y2="259.88" stroke="#222222" stroke-width="1.4"/>
<line x1="287.40" y1="259.88" x2="290.80" y2="259.88" stroke="#222222" stroke-width="1.4"/>
<text x="39.00" y="263.88" font-family="&quot;Liberation Sans&quot;, sans-serif" font-size="11.8" font-weight="normal" text-anchor="end" fill="#111">0.4</text>
<line x1="44.30" y1="288.96" x2="41.10" y2="288.96" stroke="#222222" stroke-width="1.4"/>
<line x1="287.40" y1="288.96" x2="290.80" y2="288.96" stroke="#222222" stroke-width="1.4"/>
<text x="39.00" y="292.96" font-family="&quot;Liberation Sans&quot;, sans-serif" font-size="11.8" font-weight="normal" text-anchor="end" fill="#111">0.2</text>
<line x1="44.30" y1="318.04" x2="41.10" y2="318.04" stroke="#222222" stroke-width="1.4"/>
<line x1="287.40" y1="318.04" x2="290.80" y2="318.04" stroke="#222222" stroke-width="1.4"/>
<text x="39.00" y="322.04" font-family="&quot;Liberation Sans&quot;, sans-serif" font-size="11.8" font-weight="normal" text-anchor="end" fill="#111">0.0</text>
<line x1="44.30" y1="347.12" x2="41.10" y2="347.12" stroke="#222222" stroke-width="1.4"/>
<line x1="287.40" y1="347.12" x2="290.80" y2="347.12" stroke="#222222" stroke-width="1.4"/>
<text x="39.00" y="351.12" font-family="&quot;Liberation Sans&quot;, sans-serif" font-size="11.8" font-weight="normal" text-anchor="end" fill="#111">-0.2</text>
<line x1="44.30" y1="376.20" x2="41.10" y2="376.20" stroke="#222222" stroke-width="1.4"/>
<line x1="287.40" y1="376.20" x2="290.80" y2="376.20" stroke="#222222" stroke-width="1.4"/>
<text x="39.00" y="380.20" font-family="&quot;Liberation Sans&quot;, sans-serif" font-size="11.8" font-weight="normal" text-anchor="end" fill="#111">-0.4</text>
<text x="11.00" y="353.60" font-family="&quot;Liberation Sans&quot;, sans-serif" font-size="15.7" font-weight="normal" text-anchor="start" fill="#111" textLength="114" lengthAdjust="spacingAndGlyphs" transform="rotate(-90 11.00 353.60)">Net radiation (TW)</text>
<text x="111.95" y="412.0" font-family="&quot;Liberation Sans&quot;, sans-serif" font-size="13.1" fill="#111" textLength="113.7" lengthAdjust="spacingAndGlyphs">TC size (10<tspan dy="-5" font-size="9.6">3</tspan><tspan dy="5"> km</tspan><tspan dy="-5" font-size="9.6">2</tspan><tspan dy="5">)</tspan></text>
<text x="47.85" y="223.80" font-family="&quot;Liberation Sans&quot;, sans-serif" font-size="19" font-weight="normal" text-anchor="start" fill="#111" textLength="9.1" lengthAdjust="spacingAndGlyphs">c</text>
<text x="57.90" y="223.70" font-family="&quot;Liberation Sans&quot;, sans-serif" font-size="14" font-weight="normal" text-anchor="start" fill="#111">)</text>
<polygon points="300.3,241.3 305.75,231.1 311.2,241.3" fill="#b71a30" stroke="#111" stroke-width="1" stroke-linejoin="miter"/>
<polygon points="300.3,364.5 305.75,374.9 311.2,364.5" fill="#ffffff" stroke="#111" stroke-width="1"/>
<rect x="300.3" y="241.30" width="10.899999999999977" height="10.27" fill="#dc2d28" stroke="#111" stroke-width="1"/>
<rect x="300.3" y="251.57" width="10.899999999999977" height="10.27" fill="#ec6a2f" stroke="#111" stroke-width="1"/>
<rect x="300.3" y="261.83" width="10.899999999999977" height="10.27" fill="#f09250" stroke="#111" stroke-width="1"/>
<rect x="300.3" y="272.10" width="10.899999999999977" height="10.27" fill="#f5c82b" stroke="#111" stroke-width="1"/>
<rect x="300.3" y="282.37" width="10.899999999999977" height="10.27" fill="#e3e43e" stroke="#111" stroke-width="1"/>
<rect x="300.3" y="292.63" width="10.899999999999977" height="10.27" fill="#b3d35a" stroke="#111" stroke-width="1"/>
<rect x="300.3" y="302.90" width="10.899999999999977" height="10.27" fill="#5db65c" stroke="#111" stroke-width="1"/>
<rect x="300.3" y="313.17" width="10.899999999999977" height="10.27" fill="#1e9a4a" stroke="#111" stroke-width="1"/>
<rect x="300.3" y="323.43" width="10.899999999999977" height="10.27" fill="#0f7e48" stroke="#111" stroke-width="1"/>
<rect x="300.3" y="333.70" width="10.899999999999977" height="10.27" fill="#1d4f9e" stroke="#111" stroke-width="1"/>
<rect x="300.3" y="343.97" width="10.899999999999977" height="10.27" fill="#3562b2" stroke="#111" stroke-width="1"/>
<rect x="300.3" y="354.23" width="10.899999999999977" height="10.27" fill="#6688c8" stroke="#111" stroke-width="1"/>
<text x="314.70" y="245.12" font-family="&quot;Liberation Sans&quot;, sans-serif" font-size="10.6" font-weight="normal" text-anchor="start" fill="#111">150</text>
<text x="314.70" y="255.38" font-family="&quot;Liberation Sans&quot;, sans-serif" font-size="10.6" font-weight="normal" text-anchor="start" fill="#111">100</text>
<text x="314.70" y="265.65" font-family="&quot;Liberation Sans&quot;, sans-serif" font-size="10.6" font-weight="normal" text-anchor="start" fill="#111">50</text>
<text x="314.70" y="275.92" font-family="&quot;Liberation Sans&quot;, sans-serif" font-size="10.6" font-weight="normal" text-anchor="start" fill="#111">30</text>
<text x="314.70" y="286.18" font-family="&quot;Liberation Sans&quot;, sans-serif" font-size="10.6" font-weight="normal" text-anchor="start" fill="#111">20</text>
<text x="314.70" y="296.45" font-family="&quot;Liberation Sans&quot;, sans-serif" font-size="10.6" font-weight="normal" text-anchor="start" fill="#111">15</text>
<text x="314.70" y="306.72" font-family="&quot;Liberation Sans&quot;, sans-serif" font-size="10.6" font-weight="normal" text-anchor="start" fill="#111">10</text>
<text x="314.70" y="316.98" font-family="&quot;Liberation Sans&quot;, sans-serif" font-size="10.6" font-weight="normal" text-anchor="start" fill="#111">7</text>
<text x="314.70" y="327.25" font-family="&quot;Liberation Sans&quot;, sans-serif" font-size="10.6" font-weight="normal" text-anchor="start" fill="#111">5</text>
<text x="314.70" y="337.52" font-family="&quot;Liberation Sans&quot;, sans-serif" font-size="10.6" font-weight="normal" text-anchor="start" fill="#111">4</text>
<text x="314.70" y="347.78" font-family="&quot;Liberation Sans&quot;, sans-serif" font-size="10.6" font-weight="normal" text-anchor="start" fill="#111">3</text>
<text x="314.70" y="358.05" font-family="&quot;Liberation Sans&quot;, sans-serif" font-size="10.6" font-weight="normal" text-anchor="start" fill="#111">2</text>
<text x="314.70" y="368.32" font-family="&quot;Liberation Sans&quot;, sans-serif" font-size="10.6" font-weight="normal" text-anchor="start" fill="#111">1</text>
<clipPath id="cd"><rect x="395" y="230.7" width="243.29999999999995" height="145.60000000000002"/></clipPath>
<polygon points="396.4,318.0 396.8,310.0 398.0,305.0 400.5,304.2 427.2,303.5 430.1,296.3 437.4,296.3 445.4,290.2 467.8,289.3 469.5,289.0 473.8,281.8 484.3,288.5 490.0,273.4 495.8,266.6 507.4,259.9 520.0,264.7 530.0,261.3 532.2,260.3 585.0,260.3 586.0,259.6 593.2,245.1 608.4,247.2 627.3,248.7 638.3,243.5 638.3,331.2 625.0,335.0 617.0,340.2 605.0,341.4 592.5,340.0 578.0,343.8 563.5,343.6 549.0,345.1 520.2,344.8 508.2,332.7 470.0,332.7 400.5,332.0 398.0,331.0 396.8,326.0 396.4,318.0" fill="#6688c8" clip-path="url(#cd)"/>
<polygon points="396.8,318.0 397.5,310.0 398.5,305.0 401.0,304.4 427.5,303.6 438.5,303.2 445.4,290.4 467.8,289.6 484.3,289.0 490.3,281.9 495.4,275.4 507.5,265.2 520.3,269.0 530.0,266.0 532.2,261.7 546.7,263.0 561.2,261.7 585.0,261.0 593.8,259.7 609.1,250.8 626.8,252.0 638.3,247.8 638.3,330.0 617.0,337.5 605.0,338.0 580.0,340.7 563.5,340.0 549.0,342.9 520.2,341.5 508.1,332.6 470.0,332.6 398.5,331.3 397.5,326.5 396.8,318.0" fill="#3562b2" clip-path="url(#cd)"/>
<polygon points="397.2,318.0 398.0,309.0 399.5,304.8 427.0,303.8 438.8,303.0 445.4,290.8 467.8,290.0 484.0,289.2 494.8,279.2 507.4,269.5 520.0,272.9 530.0,267.0 546.7,265.4 561.2,263.2 585.0,261.7 595.4,260.5 609.1,254.0 626.8,256.0 638.3,255.0 638.3,328.8 617.0,334.8 605.0,334.8 578.0,335.0 563.5,336.4 549.0,340.7 530.0,339.0 520.0,338.6 512.0,335.0 508.0,332.5 470.0,332.5 399.5,331.5 398.0,327.0 397.2,318.0" fill="#1d4f9e" clip-path="url(#cd)"/>
<polygon points="396.6,318.0 398.8,307.7 401.0,305.3 403.0,304.5 441.7,303.5 446.1,292.0 457.7,291.2 467.8,289.8 480.0,288.3 486.0,288.4 493.9,282.1 507.4,274.4 519.0,274.8 530.0,271.5 533.7,266.1 546.7,269.0 561.2,263.9 578.0,263.2 592.5,261.2 609.1,256.9 626.8,258.9 638.3,259.4 638.3,327.6 617.0,331.8 605.0,331.2 578.0,332.5 563.5,334.0 549.0,337.0 530.0,335.6 518.3,333.2 508.0,332.4 470.0,332.3 403.0,331.2 401.0,330.7 398.8,328.5 396.6,318.0" fill="#0f7e48" clip-path="url(#cd)"/>
<polygon points="397.2,318.0 400.2,307.7 402.5,305.8 404.0,305.0 443.0,303.5 447.5,294.1 460.0,293.5 480.0,289.8 490.0,286.0 499.0,280.4 507.4,276.8 520.0,276.0 530.0,273.4 533.7,268.3 546.7,271.2 561.2,266.1 578.0,265.4 585.0,263.3 609.1,258.9 638.3,260.9 638.3,325.2 617.0,330.6 605.0,330.1 578.0,331.8 563.5,333.5 549.0,336.4 530.0,334.5 518.0,332.8 470.0,332.2 404.0,331.0 402.5,330.4 400.2,328.4 397.2,318.0" fill="#1e9a4a" clip-path="url(#cd)"/>
<polygon points="397.9,318.0 401.7,307.7 405.0,306.0 445.0,303.5 449.0,296.3 459.1,295.6 463.5,292.0 480.0,292.0 490.0,289.3 499.7,285.0 507.4,280.2 519.0,277.3 530.0,275.8 546.7,273.0 561.2,269.0 578.0,267.5 592.5,266.5 609.1,262.9 638.3,263.4 638.3,323.3 617.0,329.4 605.0,329.4 578.0,331.0 549.0,333.0 520.0,332.2 470.0,332.0 405.0,330.5 401.7,328.3 397.9,318.0" fill="#5db65c" clip-path="url(#cd)"/>
<polygon points="398.4,318.0 404.6,307.7 406.5,306.1 420.0,305.7 447.0,303.5 451.9,297.7 460.6,297.7 464.9,294.1 480.0,294.1 490.0,291.0 507.4,284.0 519.0,279.2 530.0,278.2 546.7,274.8 561.2,271.2 585.0,270.5 592.5,270.5 615.0,268.1 638.3,266.3 638.3,321.0 617.0,328.2 605.0,328.2 578.0,330.6 520.0,332.0 470.0,332.0 408.0,330.3 406.5,329.8 404.6,328.3 398.4,318.0" fill="#b3d35a" clip-path="url(#cd)"/>
<polygon points="399.5,318.0 406.5,307.7 408.5,306.6 420.0,306.3 449.0,304.0 454.8,300.6 462.0,299.9 469.5,296.3 480.0,296.3 494.0,294.8 507.4,286.9 519.0,281.6 530.0,280.6 546.7,277.0 561.2,273.5 578.0,274.1 592.5,274.8 600.0,272.9 638.3,272.5 638.3,318.0 630.0,322.0 617.0,326.4 605.0,327.0 578.0,329.9 520.0,331.6 470.0,331.6 408.5,329.3 406.5,328.3 399.5,318.0" fill="#e3e43e" clip-path="url(#cd)"/>
<polygon points="400.3,318.0 409.4,307.7 411.0,307.0 423.0,306.8 450.4,304.3 460.6,302.8 469.5,300.6 480.0,299.2 494.0,296.8 509.3,289.3 519.0,284.5 530.0,282.6 546.7,279.1 561.2,276.0 578.0,277.0 592.5,277.7 600.0,277.7 618.0,278.5 628.6,278.8 636.1,289.3 637.5,295.6 637.5,295.6 635.0,306.3 631.8,312.0 622.0,321.5 617.0,324.6 605.0,325.8 578.0,328.4 520.0,331.3 470.0,331.3 411.0,328.8 409.4,328.3 400.3,318.0" fill="#f5c82b" clip-path="url(#cd)"/>
<polygon points="404.4,318.0 411.3,308.4 423.0,308.1 450.0,305.5 469.5,303.0 480.0,302.8 492.0,297.0 509.3,291.3 519.0,286.9 530.0,285.0 546.7,282.0 561.2,279.5 578.0,279.1 592.5,281.3 600.0,281.5 627.8,279.8 629.0,290.0 630.3,302.2 630.3,302.2 620.7,317.9 612.2,322.7 605.0,323.3 578.0,327.0 563.5,329.1 520.0,329.9 470.0,330.3 423.0,327.4 411.3,327.2 404.4,318.0" fill="#f09250" clip-path="url(#cd)"/>
<polygon points="407.5,318.0 413.3,310.5 420.0,309.5 449.0,306.4 469.5,305.0 480.0,304.5 494.0,300.6 509.3,293.2 519.0,289.8 530.0,288.4 546.7,286.4 568.5,283.5 578.0,282.0 592.5,287.8 601.2,300.0 604.8,303.8 604.8,303.8 603.4,314.6 594.0,321.2 578.0,325.0 549.0,328.0 520.0,328.4 470.0,328.8 449.0,327.5 423.0,325.4 413.3,325.0 407.5,318.0" fill="#ec6a2f" clip-path="url(#cd)"/>
<polygon points="422.0,318.0 427.8,312.9 444.0,309.5 463.5,308.3 469.5,307.9 494.0,306.0 507.4,300.0 519.0,296.0 525.0,295.1 546.7,296.3 563.5,299.4 572.9,303.8 570.0,315.4 570.0,315.4 563.5,320.4 541.7,321.2 530.0,323.5 520.0,326.0 500.0,325.9 480.0,326.3 449.0,326.0 428.7,323.8 427.8,322.1 422.0,318.0" fill="#dc2d28" clip-path="url(#cd)"/>
<polygon points="431.3,318.0 437.4,313.5 444.0,312.4 456.2,312.2 469.5,313.0 480.0,311.8 494.0,311.3 507.4,305.5 520.0,300.5 530.0,300.3 542.5,303.8 542.5,303.8 539.6,316.1 538.8,317.5 520.0,321.5 500.0,323.0 480.0,323.2 456.2,323.1 437.4,322.6 431.3,318.0" fill="#b71a30" clip-path="url(#cd)"/>
<line x1="395.00" y1="318.00" x2="638.30" y2="318.00" stroke="#1a1a1a" stroke-width="1.3" stroke-dasharray="3.7 2.43"/>
<rect x="395" y="230.7" width="243.29999999999995" height="145.60000000000002" fill="none" stroke="#222222" stroke-width="1.4"/>
<line x1="395.00" y1="376.30" x2="395.00" y2="378.90" stroke="#222222" stroke-width="1.4"/>
<line x1="395.00" y1="230.70" x2="395.00" y2="228.10" stroke="#222222" stroke-width="1.4"/>
<text x="395.70" y="391.80" font-family="&quot;Liberation Sans&quot;, sans-serif" font-size="13.4" font-weight="normal" text-anchor="middle" fill="#111">100</text>
<line x1="432.11" y1="376.30" x2="432.11" y2="378.90" stroke="#222222" stroke-width="1.4"/>
<line x1="432.11" y1="230.70" x2="432.11" y2="228.10" stroke="#222222" stroke-width="1.4"/>
<text x="432.81" y="391.80" font-family="&quot;Liberation Sans&quot;, sans-serif" font-size="13.4" font-weight="normal" text-anchor="middle" fill="#111">1000</text>
<line x1="473.35" y1="376.30" x2="473.35" y2="378.90" stroke="#222222" stroke-width="1.4"/>
<line x1="473.35" y1="230.70" x2="473.35" y2="228.10" stroke="#222222" stroke-width="1.4"/>
<text x="474.05" y="391.80" font-family="&quot;Liberation Sans&quot;, sans-serif" font-size="13.4" font-weight="normal" text-anchor="middle" fill="#111">2000</text>
<line x1="514.59" y1="376.30" x2="514.59" y2="378.90" stroke="#222222" stroke-width="1.4"/>
<line x1="514.59" y1="230.70" x2="514.59" y2="228.10" stroke="#222222" stroke-width="1.4"/>
<text x="515.29" y="391.80" font-family="&quot;Liberation Sans&quot;, sans-serif" font-size="13.4" font-weight="normal" text-anchor="middle" fill="#111">3000</text>
<line x1="555.83" y1="376.30" x2="555.83" y2="378.90" stroke="#222222" stroke-width="1.4"/>
<line x1="555.83" y1="230.70" x2="555.83" y2="228.10" stroke="#222222" stroke-width="1.4"/>
<text x="556.53" y="391.80" font-family="&quot;Liberation Sans&quot;, sans-serif" font-size="13.4" font-weight="normal" text-anchor="middle" fill="#111">4000</text>
<line x1="597.06" y1="376.30" x2="597.06" y2="378.90" stroke="#222222" stroke-width="1.4"/>
<line x1="597.06" y1="230.70" x2="597.06" y2="228.10" stroke="#222222" stroke-width="1.4"/>
<text x="597.76" y="391.80" font-family="&quot;Liberation Sans&quot;, sans-serif" font-size="13.4" font-weight="normal" text-anchor="middle" fill="#111">5000</text>
<line x1="638.30" y1="376.30" x2="638.30" y2="378.90" stroke="#222222" stroke-width="1.4"/>
<line x1="638.30" y1="230.70" x2="638.30" y2="228.10" stroke="#222222" stroke-width="1.4"/>
<text x="639.00" y="391.80" font-family="&quot;Liberation Sans&quot;, sans-serif" font-size="13.4" font-weight="normal" text-anchor="middle" fill="#111">6000</text>
<line x1="395.00" y1="230.70" x2="391.80" y2="230.70" stroke="#222222" stroke-width="1.4"/>
<line x1="638.30" y1="230.70" x2="641.70" y2="230.70" stroke="#222222" stroke-width="1.4"/>
<text x="389.70" y="234.70" font-family="&quot;Liberation Sans&quot;, sans-serif" font-size="11.8" font-weight="normal" text-anchor="end" fill="#111">0.6</text>
<line x1="395.00" y1="259.82" x2="391.80" y2="259.82" stroke="#222222" stroke-width="1.4"/>
<line x1="638.30" y1="259.82" x2="641.70" y2="259.82" stroke="#222222" stroke-width="1.4"/>
<text x="389.70" y="263.82" font-family="&quot;Liberation Sans&quot;, sans-serif" font-size="11.8" font-weight="normal" text-anchor="end" fill="#111">0.4</text>
<line x1="395.00" y1="288.94" x2="391.80" y2="288.94" stroke="#222222" stroke-width="1.4"/>
<line x1="638.30" y1="288.94" x2="641.70" y2="288.94" stroke="#222222" stroke-width="1.4"/>
<text x="389.70" y="292.94" font-family="&quot;Liberation Sans&quot;, sans-serif" font-size="11.8" font-weight="normal" text-anchor="end" fill="#111">0.2</text>
<line x1="395.00" y1="318.06" x2="391.80" y2="318.06" stroke="#222222" stroke-width="1.4"/>
<line x1="638.30" y1="318.06" x2="641.70" y2="318.06" stroke="#222222" stroke-width="1.4"/>
<text x="389.70" y="322.06" font-family="&quot;Liberation Sans&quot;, sans-serif" font-size="11.8" font-weight="normal" text-anchor="end" fill="#111">0.0</text>
<line x1="395.00" y1="347.18" x2="391.80" y2="347.18" stroke="#222222" stroke-width="1.4"/>
<line x1="638.30" y1="347.18" x2="641.70" y2="347.18" stroke="#222222" stroke-width="1.4"/>
<text x="389.70" y="351.18" font-family="&quot;Liberation Sans&quot;, sans-serif" font-size="11.8" font-weight="normal" text-anchor="end" fill="#111">-0.2</text>
<line x1="395.00" y1="376.30" x2="391.80" y2="376.30" stroke="#222222" stroke-width="1.4"/>
<line x1="638.30" y1="376.30" x2="641.70" y2="376.30" stroke="#222222" stroke-width="1.4"/>
<text x="389.70" y="380.30" font-family="&quot;Liberation Sans&quot;, sans-serif" font-size="11.8" font-weight="normal" text-anchor="end" fill="#111">-0.4</text>
<text x="360.00" y="353.60" font-family="&quot;Liberation Sans&quot;, sans-serif" font-size="15.7" font-weight="normal" text-anchor="start" fill="#111" textLength="114" lengthAdjust="spacingAndGlyphs" transform="rotate(-90 360.00 353.60)">Net radiation (TW)</text>
<text x="462.75" y="412.0" font-family="&quot;Liberation Sans&quot;, sans-serif" font-size="13.1" fill="#111" textLength="113.7" lengthAdjust="spacingAndGlyphs">TC size (10<tspan dy="-5" font-size="9.6">3</tspan><tspan dy="5"> km</tspan><tspan dy="-5" font-size="9.6">2</tspan><tspan dy="5">)</tspan></text>
<text x="397.40" y="224.30" font-family="&quot;Liberation Sans&quot;, sans-serif" font-size="19" font-weight="normal" text-anchor="start" fill="#111" textLength="10.4" lengthAdjust="spacingAndGlyphs">d</text>
<text x="409.60" y="223.70" font-family="&quot;Liberation Sans&quot;, sans-serif" font-size="14" font-weight="normal" text-anchor="start" fill="#111">)</text>
<polygon points="651.4,241.3 656.8499999999999,231.1 662.3,241.3" fill="#b71a30" stroke="#111" stroke-width="1" stroke-linejoin="miter"/>
<polygon points="651.4,364.5 656.8499999999999,374.9 662.3,364.5" fill="#ffffff" stroke="#111" stroke-width="1"/>
<rect x="651.4" y="241.30" width="10.899999999999977" height="10.27" fill="#dc2d28" stroke="#111" stroke-width="1"/>
<rect x="651.4" y="251.57" width="10.899999999999977" height="10.27" fill="#ec6a2f" stroke="#111" stroke-width="1"/>
<rect x="651.4" y="261.83" width="10.899999999999977" height="10.27" fill="#f09250" stroke="#111" stroke-width="1"/>
<rect x="651.4" y="272.10" width="10.899999999999977" height="10.27" fill="#f5c82b" stroke="#111" stroke-width="1"/>
<rect x="651.4" y="282.37" width="10.899999999999977" height="10.27" fill="#e3e43e" stroke="#111" stroke-width="1"/>
<rect x="651.4" y="292.63" width="10.899999999999977" height="10.27" fill="#b3d35a" stroke="#111" stroke-width="1"/>
<rect x="651.4" y="302.90" width="10.899999999999977" height="10.27" fill="#5db65c" stroke="#111" stroke-width="1"/>
<rect x="651.4" y="313.17" width="10.899999999999977" height="10.27" fill="#1e9a4a" stroke="#111" stroke-width="1"/>
<rect x="651.4" y="323.43" width="10.899999999999977" height="10.27" fill="#0f7e48" stroke="#111" stroke-width="1"/>
<rect x="651.4" y="333.70" width="10.899999999999977" height="10.27" fill="#1d4f9e" stroke="#111" stroke-width="1"/>
<rect x="651.4" y="343.97" width="10.899999999999977" height="10.27" fill="#3562b2" stroke="#111" stroke-width="1"/>
<rect x="651.4" y="354.23" width="10.899999999999977" height="10.27" fill="#6688c8" stroke="#111" stroke-width="1"/>
<text x="665.80" y="245.12" font-family="&quot;Liberation Sans&quot;, sans-serif" font-size="10.6" font-weight="normal" text-anchor="start" fill="#111">150</text>
<text x="665.80" y="255.38" font-family="&quot;Liberation Sans&quot;, sans-serif" font-size="10.6" font-weight="normal" text-anchor="start" fill="#111">100</text>
<text x="665.80" y="265.65" font-family="&quot;Liberation Sans&quot;, sans-serif" font-size="10.6" font-weight="normal" text-anchor="start" fill="#111">50</text>
<text x="665.80" y="275.92" font-family="&quot;Liberation Sans&quot;, sans-serif" font-size="10.6" font-weight="normal" text-anchor="start" fill="#111">30</text>
<text x="665.80" y="286.18" font-family="&quot;Liberation Sans&quot;, sans-serif" font-size="10.6" font-weight="normal" text-anchor="start" fill="#111">20</text>
<text x="665.80" y="296.45" font-family="&quot;Liberation Sans&quot;, sans-serif" font-size="10.6" font-weight="normal" text-anchor="start" fill="#111">15</text>
<text x="665.80" y="306.72" font-family="&quot;Liberation Sans&quot;, sans-serif" font-size="10.6" font-weight="normal" text-anchor="start" fill="#111">10</text>
<text x="665.80" y="316.98" font-family="&quot;Liberation Sans&quot;, sans-serif" font-size="10.6" font-weight="normal" text-anchor="start" fill="#111">7</text>
<text x="665.80" y="327.25" font-family="&quot;Liberation Sans&quot;, sans-serif" font-size="10.6" font-weight="normal" text-anchor="start" fill="#111">5</text>
<text x="665.80" y="337.52" font-family="&quot;Liberation Sans&quot;, sans-serif" font-size="10.6" font-weight="normal" text-anchor="start" fill="#111">4</text>
<text x="665.80" y="347.78" font-family="&quot;Liberation Sans&quot;, sans-serif" font-size="10.6" font-weight="normal" text-anchor="start" fill="#111">3</text>
<text x="665.80" y="358.05" font-family="&quot;Liberation Sans&quot;, sans-serif" font-size="10.6" font-weight="normal" text-anchor="start" fill="#111">2</text>
<text x="665.80" y="368.32" font-family="&quot;Liberation Sans&quot;, sans-serif" font-size="10.6" font-weight="normal" text-anchor="start" fill="#111">1</text>
</svg></body></html>
